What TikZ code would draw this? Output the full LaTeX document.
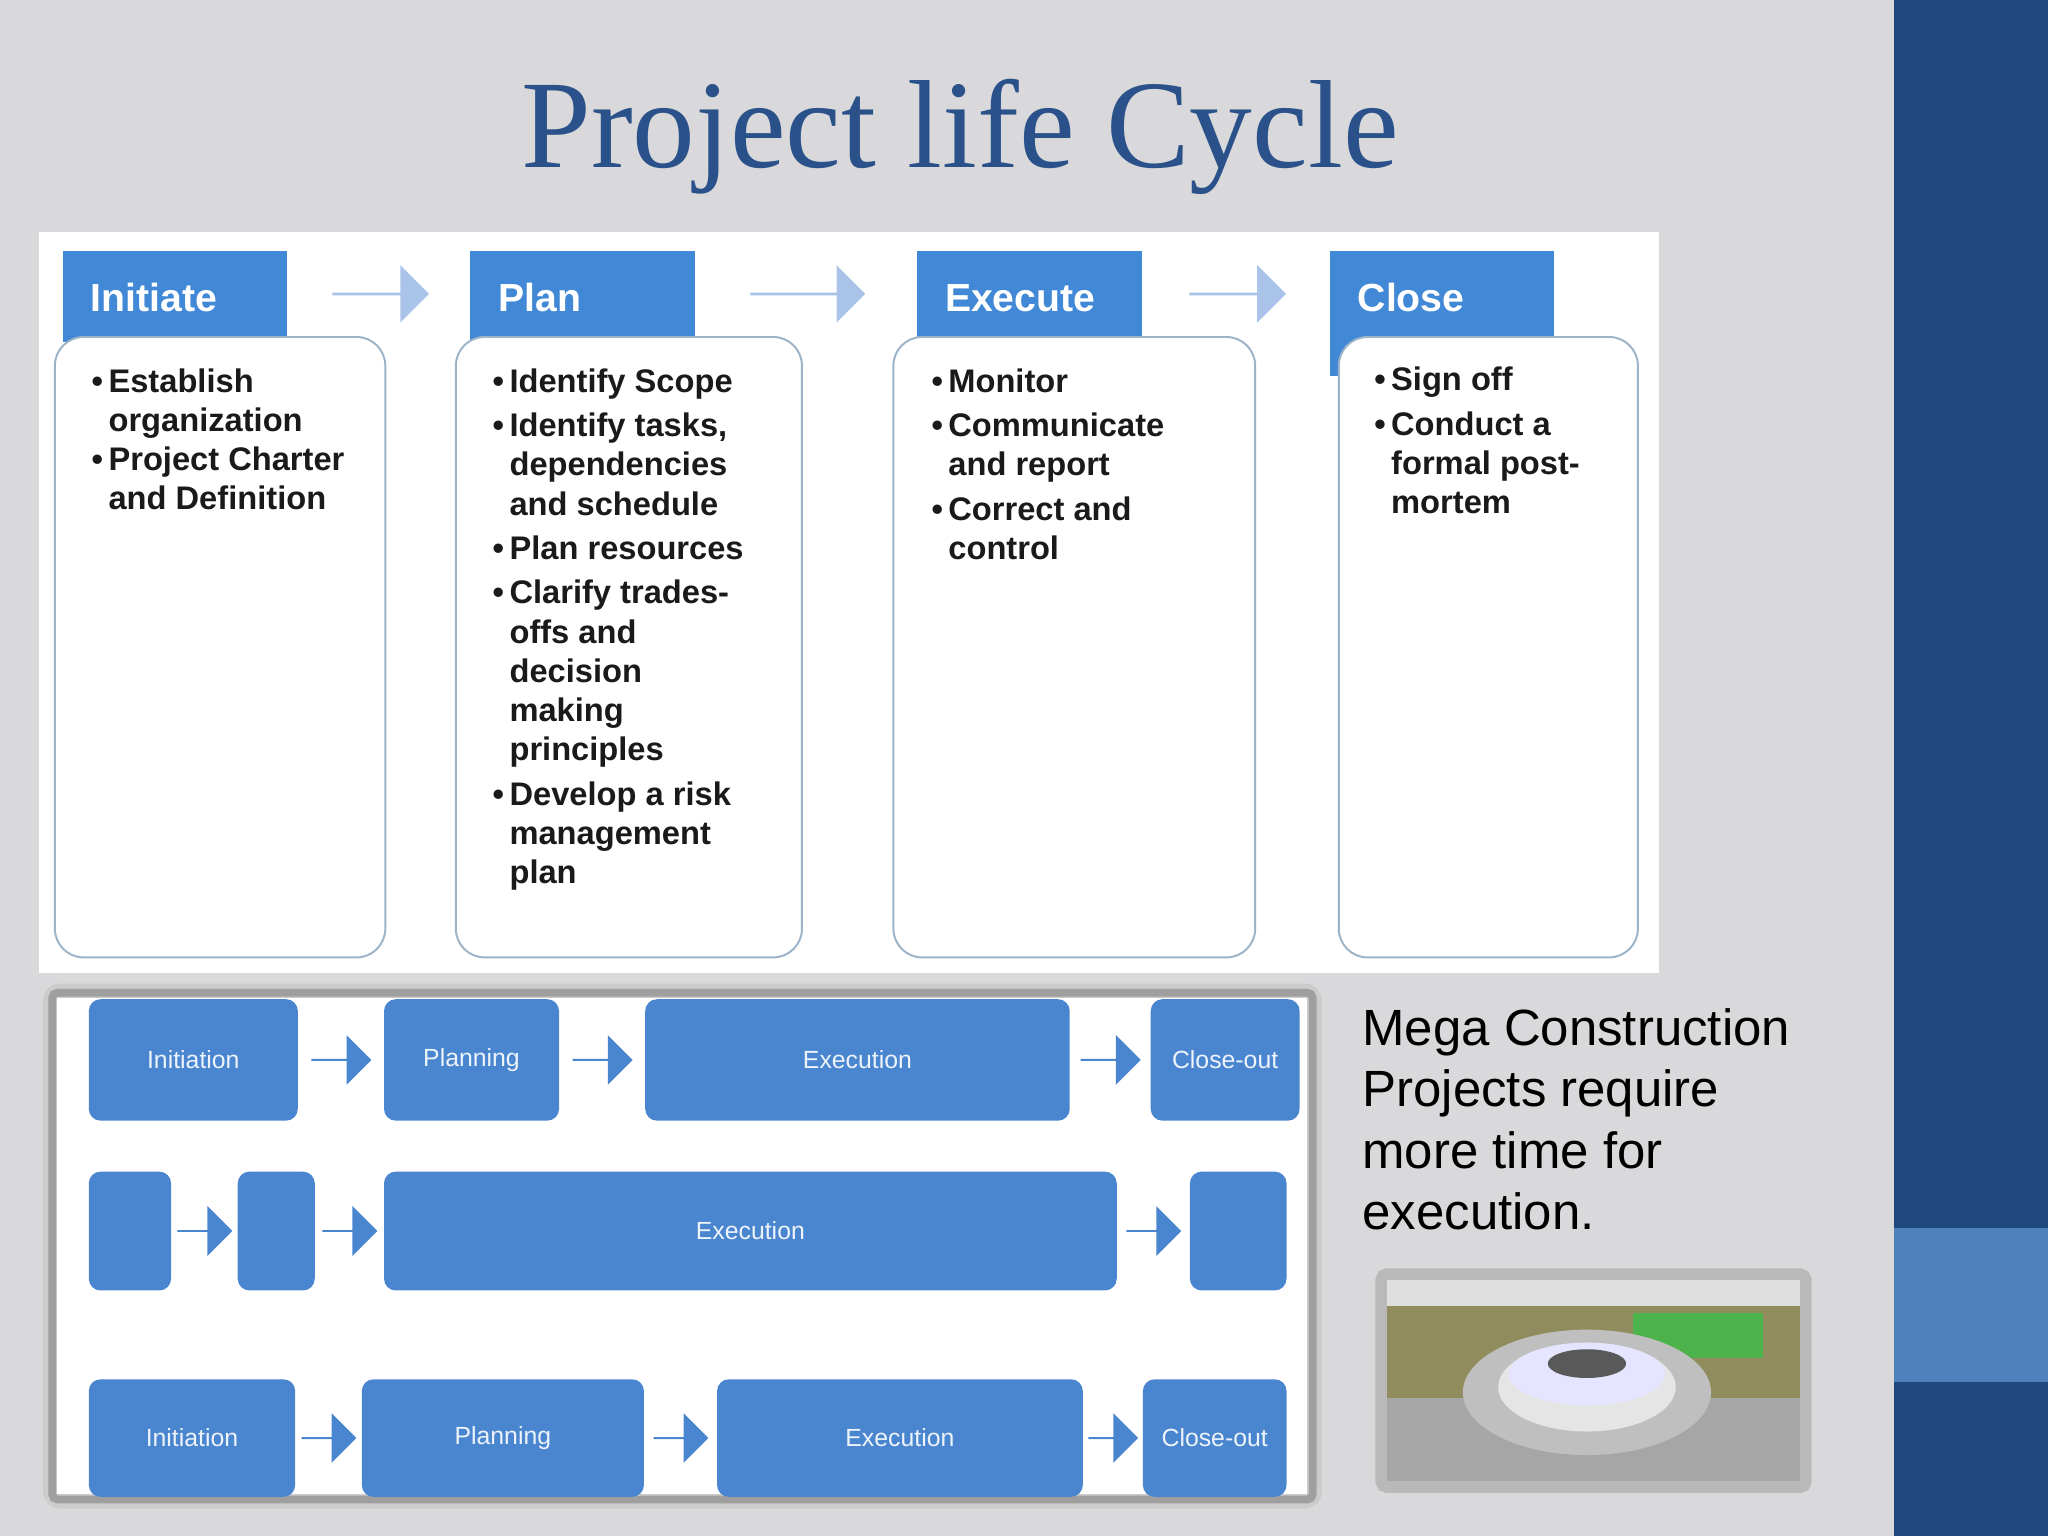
\documentclass[tikz,border=0pt]{standalone}
\usepackage{fontspec}
\setmainfont{Liberation Sans}
\newfontfamily\titlefont{Liberation Serif}
\usetikzlibrary{shapes.arrows,shapes.geometric,calc}
\definecolor{bg}{HTML}{D9D9DB}
\definecolor{navy}{HTML}{1F497D}
\definecolor{midblue}{HTML}{4F81BD}
\definecolor{titleblue}{HTML}{2A5189}
\definecolor{tabblue}{HTML}{4189D6}
\definecolor{lightarrow}{HTML}{A9C4E8}
\definecolor{cardline}{HTML}{9DB3C8}
\definecolor{boxblue}{HTML}{4A86D0}
\definecolor{txt}{HTML}{1A1A1A}
\tikzset{
  card/.style={draw=cardline,line width=1.5pt,fill=white,rounded corners=22pt},
  tabtext/.style={anchor=west,text=white,font=\fontsize{30}{34}\selectfont\bfseries},
  bullets/.style={anchor=north west,align=left,font=\fontsize{25}{30}\selectfont\bfseries,text=txt,inner sep=0pt},
  toparrow/.style={single arrow,fill=lightarrow,draw=none,minimum width=44pt,minimum height=74pt,single arrow head extend=4pt,single arrow tip angle=90,inner sep=0pt},
  barrow/.style={single arrow,fill=boxblue,draw=none,minimum width=38pt,minimum height=46pt,single arrow head extend=5pt,inner sep=0pt},
  bbox/.style={fill=boxblue,rounded corners=9pt,text=white!90!boxblue,font=\fontsize{19}{22}\selectfont}
}
\newcommand{\bl}[1]{\textbullet\,#1}
\newcommand{\ind}{\hphantom{\textbullet\,}}
\begin{document}
\begin{tikzpicture}[x=1pt,y=-1pt]
\fill[bg] (0,0) rectangle (1568,1176);
\useasboundingbox (0,0) rectangle (1568,1176);
\fill[navy] (1450,0) rectangle (1568,1176);
\fill[midblue] (1450,940) rectangle (1568,1058);
\node[font=\titlefont\fontsize{96}{100}\selectfont,text=titleblue] (title) at (735,105) {Project life Cycle};
% top panel
\fill[white] (30,178) rectangle (1270,745);
\fill[tabblue] (48,192) rectangle (220,262);
\fill[tabblue] (360,192) rectangle (532,262);
\fill[tabblue] (702,192) rectangle (874,262);
\fill[tabblue] (1018,192) rectangle (1190,288);
\draw[card] (42,258) rectangle (295,733);
\draw[card] (349,258) rectangle (614,733);
\draw[card] (684,258) rectangle (961,733);
\draw[card] (1025,258) rectangle (1254,733);
\node[tabtext] (t1) at (66,228) {Initiate};
\node[tabtext] (t2) at (378,228) {Plan};
\node[tabtext] (t3) at (720,228) {Execute};
\node[tabtext] (t4) at (1036,228) {Close};
\node[toparrow] (a1) at (291,225) {};
\node[toparrow,minimum height=88pt] (a2) at (618,225) {};
\node[toparrow] (a3) at (947,225) {};
\node[bullets] (b1) at (70,282) {\bl{Establish}\\\ind organization\\\bl{Project Charter}\\\ind and Definition};
\node[bullets] (b2) at (377,282) {\bl{Identify Scope}\\[4pt]\bl{Identify tasks,}\\\ind dependencies\\\ind and schedule\\[4pt]\bl{Plan resources}\\[4pt]\bl{Clarify trades-}\\\ind offs and\\\ind decision\\\ind making\\\ind principles\\[4pt]\bl{Develop a risk}\\\ind management\\\ind plan};
\node[bullets] (b3) at (713,282) {\bl{Monitor}\\[4pt]\bl{Communicate}\\\ind and report\\[4pt]\bl{Correct and}\\\ind control};
\node[bullets] (b4) at (1052,281) {\bl{Sign off}\\[4pt]\bl{Conduct a}\\\ind formal post-\\\ind mortem};
% bottom panel
\draw[gray!40,line width=14pt,rounded corners=6pt] (40,760) rectangle (1005,1148);
\draw[gray!75,line width=6pt,rounded corners=4pt] (40,760) rectangle (1005,1148);
\fill[white] (44,764) rectangle (1001,1144);
% row 1
\node[bbox,minimum width=160pt,minimum height=93pt] (r1a) at (148,811.5) {Initiation};
\node[bbox,minimum width=134pt,minimum height=93pt] (r1b) at (361,811.5) {Planning};
\node[bbox,minimum width=325pt,minimum height=93pt] (r1c) at (656.5,811.5) {Execution};
\node[bbox,minimum width=114pt,minimum height=93pt] (r1d) at (938,811.5) {Close-out};
\node[barrow] at ($(r1a.east)!0.5!(r1b.west)$) {};
\node[barrow] at ($(r1b.east)!0.5!(r1c.west)$) {};
\node[barrow] at ($(r1c.east)!0.5!(r1d.west)$) {};
% row 2
\node[bbox,minimum width=63pt,minimum height=91pt] (r2a) at (99.5,942.5) {};
\node[bbox,minimum width=59pt,minimum height=91pt] (r2b) at (211.5,942.5) {};
\node[bbox,minimum width=561pt,minimum height=91pt] (r2c) at (574.5,942.5) {Execution};
\node[bbox,minimum width=74pt,minimum height=91pt] (r2d) at (948,942.5) {};
\node[barrow,minimum height=42pt] at ($(r2a.east)!0.5!(r2b.west)$) {};
\node[barrow,minimum height=42pt] at ($(r2b.east)!0.5!(r2c.west)$) {};
\node[barrow,minimum height=42pt] at ($(r2c.east)!0.5!(r2d.west)$) {};
% row 3
\node[bbox,minimum width=158pt,minimum height=90pt] (r3a) at (147,1101) {Initiation};
\node[bbox,minimum width=216pt,minimum height=90pt] (r3b) at (385,1101) {Planning};
\node[bbox,minimum width=280pt,minimum height=90pt] (r3c) at (689,1101) {Execution};
\node[bbox,minimum width=110pt,minimum height=90pt] (r3d) at (930,1101) {Close-out};
\node[barrow,minimum height=42pt] at ($(r3a.east)!0.5!(r3b.west)$) {};
\node[barrow,minimum height=42pt] at ($(r3b.east)!0.5!(r3c.west)$) {};
\node[barrow,minimum height=38pt] at ($(r3c.east)!0.5!(r3d.west)$) {};
% text
\node[anchor=north west,align=left,font=\fontsize{39}{47}\selectfont,text=black,inner sep=0pt] (mega) at (1043,772) {Mega Construction\\Projects require\\more time for\\execution.};
% photo
\draw[gray!55,line width=10pt,rounded corners=4pt] (1058,976) rectangle (1382,1138);
\fill[gray!25!white] (1062,980) rectangle (1378,1000);
\fill[olive!35!gray] (1062,1000) rectangle (1378,1134);
\fill[gray!70] (1062,1070) rectangle (1378,1134);
\fill[green!40!gray] (1250,1005) rectangle (1350,1040);
\fill[gray!50] (1215,1066) ellipse (95pt and 48pt);
\fill[gray!20] (1215,1062) ellipse (68pt and 34pt);
\fill[white!90!blue] (1215,1052) ellipse (60pt and 24pt);
\fill[gray!70!black] (1215,1044) ellipse (30pt and 11pt);
\end{tikzpicture}
\end{document}
